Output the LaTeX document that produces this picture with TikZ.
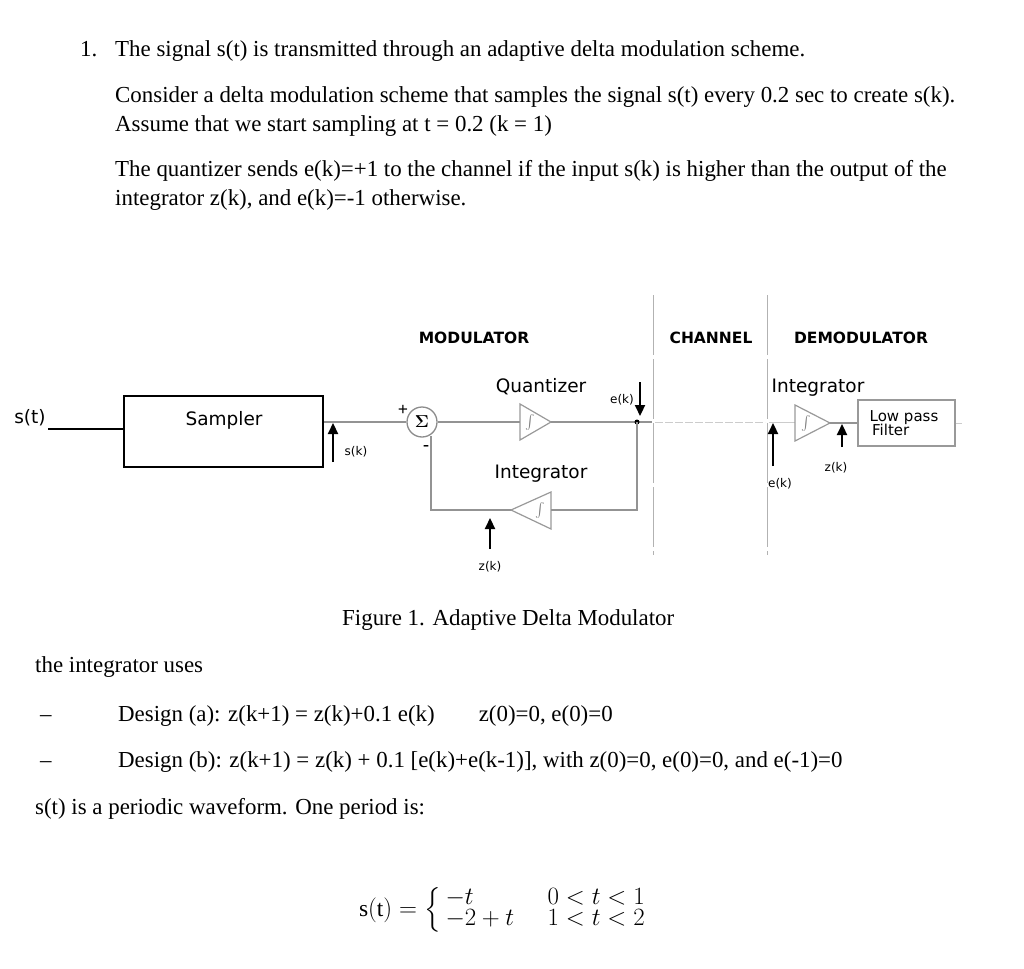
\documentclass[tikz,border=0pt]{standalone}
\usepackage{fontspec}
\usepackage{amsmath}
\setmainfont{Liberation Serif}
\newfontfamily\dsans{DejaVu Sans}
\usetikzlibrary{arrows.meta}
\begin{document}
\begin{tikzpicture}[x=1pt,y=-1pt,
  txt/.style={anchor=base west,inner sep=0pt,font=\fontsize{22.9}{26}\selectfont},
  dl/.style={inner sep=0pt,font=\dsans\fontsize{18.5}{22}\selectfont},
  hd/.style={inner sep=0pt,font=\dsans\bfseries\fontsize{15.5}{18}\selectfont},
  sm/.style={inner sep=0pt,font=\dsans\fontsize{12}{14}\selectfont},
  gl/.style={draw=gray!85,line width=1.2pt},
  sig/.style={-{Triangle[length=11pt,width=10pt]},line width=2.2pt},
  sep/.style={draw=gray!60,line width=1pt,dash pattern=on 60pt off 4pt}]
\useasboundingbox (0,0) rectangle (1024,968);
% text
\node[txt] (n1) at (80,57) {1.};
\node[txt] (t1) at (115,57) {The signal s(t) is transmitted through an adaptive delta modulation scheme.};
\node[txt] (t2) at (115,103) {Consider a delta modulation scheme that samples the signal s(t) every 0.2 sec to create s(k).};
\node[txt] (t3) at (115,132) {Assume that we start sampling at t = 0.2 (k = 1)};
\node[txt] (t4) at (115,177) {The quantizer sends e(k)=+1 to the channel if the input s(k) is higher than the output of the};
\node[txt] (t5) at (115,206) {integrator z(k), and e(k)=-1 otherwise.};
\node[txt] (cap) at (342,625) {Figure 1. Adaptive Delta Modulator};
\node[txt] (t6) at (35,672) {the integrator uses};
\node[txt] (d1) at (40,721) {--};
\node[txt] (t7) at (118,721) {Design (a): z(k+1) = z(k)+0.1 e(k)\hspace{44pt}z(0)=0, e(0)=0};
\node[txt] (d2) at (40,767) {--};
\node[txt] (t8) at (118,767) {Design (b): z(k+1) = z(k) + 0.1 [e(k)+e(k-1)], with z(0)=0, e(0)=0, and e(-1)=0};
\node[txt] (t9) at (35,814) {s(t) is a periodic waveform. One period is:};
\node[inner sep=0pt,font=\fontsize{23.5}{27}\selectfont] (eq) at (505,910) {$\mathrm{s(t)} = \left\{\begin{array}{ll} -t\quad & 0<t<1\\[-6pt] -2+t\quad & 1<t<2\end{array}\right.$};
% separators
\draw[sep] (653,295) -- (653,555);
\draw[sep] (767,295) -- (767,555);
\node[hd] (hm) at (474,338) {MODULATOR};
\node[hd] (hc) at (711,338) {CHANNEL};
\node[hd] (hdm) at (861,338) {DEMODULATOR};
% modulator
\node[dl] (st) at (30,418) {s(t)};
\node[draw,line width=2pt,minimum width=199pt,minimum height=71pt,inner sep=0pt] (samp) at (223.5,431.5) {};
\node[dl] at (224,420) {Sampler};
\draw[line width=1.4pt] (48,429) -- (124,429);
\node[circle,draw=gray!90,line width=1.3pt,minimum size=30pt,inner sep=0pt,font=\bfseries\fontsize{17}{17}\selectfont] (sum) at (422,422) {$\boldsymbol\Sigma$};
\draw[gl] (samp.east |- 0,422) -- (sum.west);
\node[font=\bfseries\fontsize{18}{18}\selectfont,inner sep=0pt] (pl) at (403,410) {+};
\node[font=\bfseries\fontsize{18}{18}\selectfont,inner sep=0pt] (mi) at (426,448) {-};
\coordinate (sk0) at (333,462);
\coordinate (sk1) at (333,423);
\draw[sig] (sk0) -- (sk1);
\node[sm] (skl) at (356,452) {s(k)};
% quantizer
\coordinate (qa) at (520,404); \coordinate (qb) at (520,440); \coordinate (qc) at (551,422);
\draw[draw=gray!80,line width=1.2pt] (qa) -- (qb) -- (qc) -- cycle;
\node[font=\fontsize{14}{14}\selectfont,text=gray,inner sep=0pt] at (530,422) {$\int$};
\node[dl] (ql) at (541,387) {Quantizer};
\coordinate (node) at (637,422);
\draw[gl] (sum.east) -- (520,422);
\draw[gl] (qc) -- (652,422);
\fill (node) circle (2.5pt);
\coordinate (ek0) at (640,382); \coordinate (ek1) at (640,416);
\draw[sig] (ek0) -- (ek1);
\node[sm] (ekl) at (622,400) {e(k)};
% integrator feedback
\coordinate (ia) at (551,492); \coordinate (ib) at (551,529); \coordinate (ic) at (511,510);
\draw[draw=gray!80,line width=1.2pt] (ia) -- (ib) -- (ic) -- cycle;
\node[font=\fontsize{14}{14}\selectfont,text=gray,inner sep=0pt] at (540,510) {$\int$};
\node[dl] (il) at (541,474) {Integrator};
\draw[gl] (node) -- (637,510) -- (551,510);
\draw[gl] (ic) -- (431,510) -- (431,436);
\coordinate (zk0) at (490,549); \coordinate (zk1) at (490,518);
\draw[sig] (zk0) -- (zk1);
\node[sm] (zkl) at (490,567) {z(k)};
% channel
\draw[draw=gray!40,line width=1pt,dash pattern=on 8pt off 2pt] (655,422) -- (765,422);
% demodulator
\draw[draw=gray!40,line width=1pt] (769,422) -- (795,422);
\coordinate (da) at (795,405); \coordinate (db) at (795,441); \coordinate (dc) at (830,423);
\draw[draw=gray!80,line width=1.2pt] (da) -- (db) -- (dc) -- cycle;
\node[font=\fontsize{14}{14}\selectfont,text=gray,inner sep=0pt] at (806,423) {$\int$};
\node[dl] (dil) at (818,388) {Integrator};
\coordinate (de0) at (773,466); \coordinate (de1) at (773,423);
\draw[sig] (de0) -- (de1);
\node[sm] (del) at (780,484) {e(k)};
\node[draw=gray!80,line width=1.2pt,minimum width=97pt,minimum height=46pt,inner sep=0pt] (lpf) at (906.5,423) {};
\node[dl,align=left,font=\dsans\fontsize{15}{15}\selectfont] at (904,423) {Low pass\\[-1pt]\,Filter};
\draw[gl] (dc) -- (lpf.west);
\draw[draw=gray!40,line width=1pt] (lpf.east) -- (962,423);
\coordinate (dz0) at (842,447); \coordinate (dz1) at (842,424);
\draw[sig] (dz0) -- (dz1);
\node[sm] (dzl) at (836,468) {z(k)};
\end{tikzpicture}
\end{document}
